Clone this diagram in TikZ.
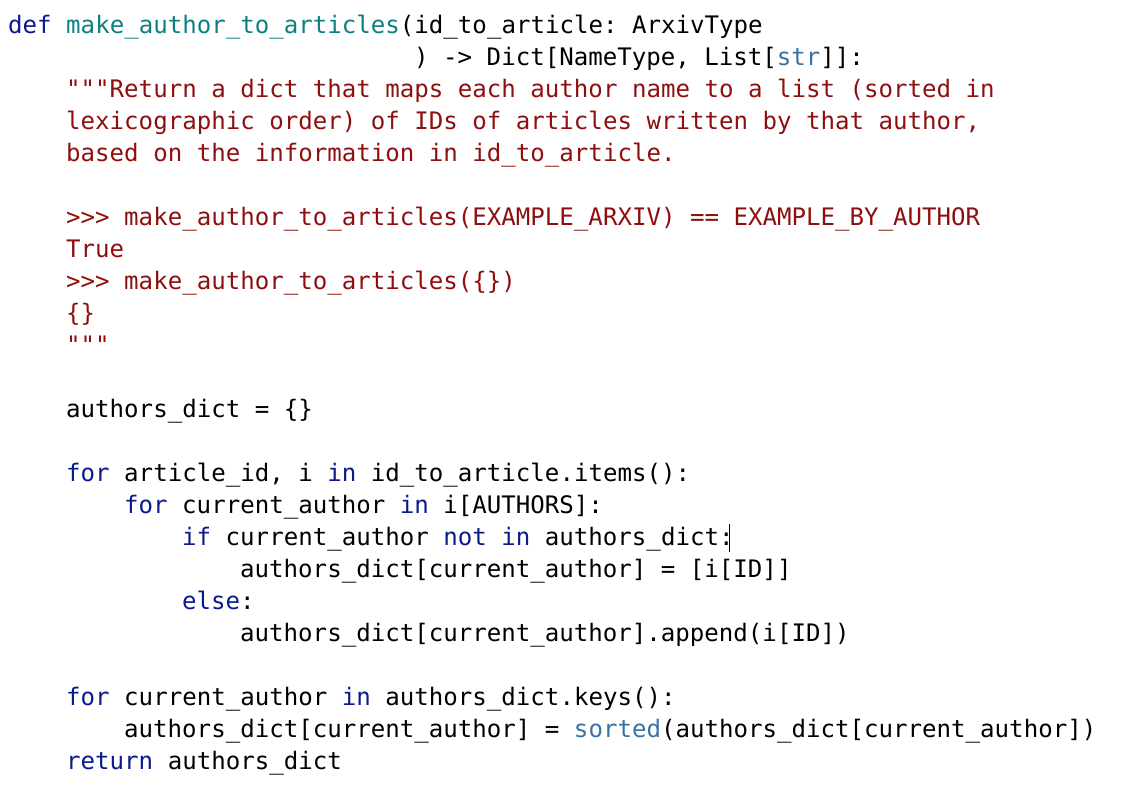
\documentclass[tikz,border=0pt]{standalone}
\usepackage{fontspec}
\setmonofont{DejaVu Sans Mono}
\definecolor{kw}{HTML}{0A1A8C}
\definecolor{fn}{HTML}{0E7F80}
\definecolor{st}{HTML}{8E0F0F}
\definecolor{bi}{HTML}{3A72A6}
\newcommand{\Kw}[1]{\textcolor{kw}{#1}}
\newcommand{\Fn}[1]{\textcolor{fn}{#1}}
\newcommand{\Sr}[1]{\textcolor{st}{#1}}
\newcommand{\Bi}[1]{\textcolor{bi}{#1}}
\tikzset{codeline/.style={anchor=base west,inner sep=0pt,font=\ttfamily\fontsize{24.1}{32}\selectfont}}
\begin{document}
\begin{tikzpicture}[x=1pt,y=-1pt]
\useasboundingbox (0,0) rectangle (1124,798);
\def\cw{14.5}
\newcommand{\Ln}[4]{\node[codeline] (#1) at ({8+#3*\cw},{#2+8}) {#4};}
\Ln{l1}{25}{0}{\Kw{def} \Fn{make\_author\_to\_articles}(id\_to\_article: ArxivType}
\Ln{l2}{57}{28}{) -> Dict[NameType, List[\Bi{str}]]:}
\Ln{l3}{89}{4}{\Sr{"""Return a dict that maps each author name to a list (sorted in}}
\Ln{l4}{121}{4}{\Sr{lexicographic order) of IDs of articles written by that author,}}
\Ln{l5}{153}{4}{\Sr{based on the information in id\_to\_article.}}
\Ln{l6}{217}{4}{\Sr{>>> make\_author\_to\_articles(EXAMPLE\_ARXIV) == EXAMPLE\_BY\_AUTHOR}}
\Ln{l7}{249}{4}{\Sr{True}}
\Ln{l8}{281}{4}{\Sr{>>> make\_author\_to\_articles(\{\})}}
\Ln{l9}{313}{4}{\Sr{\{\}}}
\Ln{l10}{345}{4}{\Sr{"""}}
\Ln{l11}{409}{4}{authors\_dict = \{\}}
\Ln{l12}{473}{4}{\Kw{for} article\_id, i \Kw{in} id\_to\_article.items():}
\Ln{l13}{505}{8}{\Kw{for} current\_author \Kw{in} i[AUTHORS]:}
\Ln{l14}{537}{12}{\Kw{if} current\_author \Kw{not} \Kw{in} authors\_dict:}
\Ln{l15}{569}{16}{authors\_dict[current\_author] = [i[ID]]}
\Ln{l16}{601}{12}{\Kw{else}:}
\Ln{l17}{633}{16}{authors\_dict[current\_author].append(i[ID])}
\Ln{l18}{697}{4}{\Kw{for} current\_author \Kw{in} authors\_dict.keys():}
\Ln{l19}{729}{8}{authors\_dict[current\_author] = \Bi{sorted}(authors\_dict[current\_author])}
\Ln{l20}{761}{4}{\Kw{return} authors\_dict}
\coordinate (c1) at (729,524);
\coordinate (c2) at (729,552);
\draw[line width=1pt] (c1) -- (c2);
\end{tikzpicture}
\end{document}
